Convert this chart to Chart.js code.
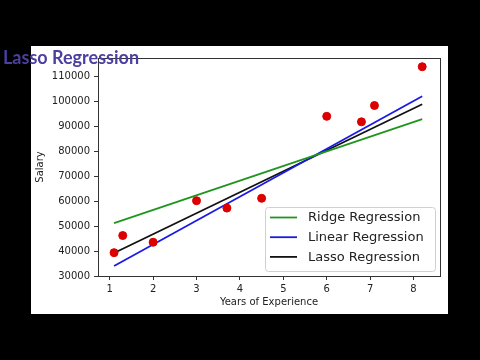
<!DOCTYPE html>
<html><head><meta charset="utf-8">
<script src="https://cdn.jsdelivr.net/npm/chart.js@4.4.0/dist/chart.umd.min.js"></script>
<style>html,body{margin:0;padding:0;background:#000;overflow:hidden}canvas{display:block}</style>
</head><body>
<canvas id="c" width="480" height="360"></canvas>
<script>
const titleText = 'Lasso Regression';
const xLabel = 'Years of Experience';
const yLabel = 'Salary';
const experience = [1.1, 1.3, 2.0, 3.0, 3.7, 4.5, 6.0, 6.8, 7.1, 8.2];
const salary = [39343, 46205, 43525, 60150, 57189, 61111, 93940, 91738, 98273, 113812];
const lineX = [1.1, 8.2];
const ridge = [51200, 92800];
const linear = [34000, 102000];
const lasso = [39200, 98800];
const seriesNames = ['Ridge Regression', 'Linear Regression', 'Lasso Regression'];
const xTicks = [1, 2, 3, 4, 5, 6, 7, 8];
const yTicks = [30000, 40000, 50000, 60000, 70000, 80000, 90000, 100000, 110000];

const pts = (xs, ys) => xs.map((x, i) => ({x: x, y: ys[i]}));
const lineColors = ['#1f951f', '#1a1ae6', '#111111'];

const bgPlugin = {
  id: 'bg',
  beforeDraw(chart) {
    const ctx = chart.ctx;
    ctx.save();
    ctx.fillStyle = '#000';
    ctx.fillRect(0, 0, chart.width, chart.height);
    ctx.fillStyle = '#fff';
    ctx.fillRect(31, 46, 417, 268);
    ctx.restore();
  },
  afterDraw(chart) {
    const ctx = chart.ctx;
    const a = chart.chartArea;
    ctx.save();
    ctx.strokeStyle = '#333';
    ctx.lineWidth = 1;
    ctx.strokeRect(Math.round(a.left) + 0.5, Math.round(a.top) + 0.5, Math.round(a.right - a.left), Math.round(a.bottom - a.top));
    const lx = 265, ly = 207, lw = 170, lh = 64;
    ctx.fillStyle = 'rgba(255,255,255,0.9)';
    ctx.strokeStyle = '#d0d0d0';
    ctx.beginPath();
    if (ctx.roundRect) ctx.roundRect(lx + 0.5, ly + 0.5, lw, lh, 3); else ctx.rect(lx + 0.5, ly + 0.5, lw, lh);
    ctx.fill();
    ctx.stroke();
    ctx.font = '13px "DejaVu Sans"';
    ctx.textBaseline = 'middle';
    for (let i = 0; i < 3; i++) {
      const ds = chart.data.datasets[i + 1];
      const y = 217.5 + i * 19.7;
      ctx.strokeStyle = ds.borderColor;
      ctx.lineWidth = 1.8;
      ctx.beginPath();
      ctx.moveTo(270, y);
      ctx.lineTo(297, y);
      ctx.stroke();
      ctx.fillStyle = '#222';
      ctx.fillText(ds.label, 308, y + 0.5);
    }
    ctx.fillStyle = '#4b3fa0';
    ctx.font = 'bold 18px Lato';
    ctx.textBaseline = 'alphabetic';
    ctx.fillText(titleText, 3, 64, 137);
    ctx.restore();
  }
};

new Chart(document.getElementById('c'), {
  type: 'scatter',
  data: {
    datasets: [
      {label: 'Data', data: pts(experience, salary), backgroundColor: '#dd0000', borderColor: '#dd0000', pointRadius: 4, pointHoverRadius: 4, showLine: false},
      {label: seriesNames[0], data: pts(lineX, ridge), borderColor: lineColors[0], backgroundColor: lineColors[0], showLine: true, pointRadius: 0, borderWidth: 1.8},
      {label: seriesNames[1], data: pts(lineX, linear), borderColor: lineColors[1], backgroundColor: lineColors[1], showLine: true, pointRadius: 0, borderWidth: 1.8},
      {label: seriesNames[2], data: pts(lineX, lasso), borderColor: lineColors[2], backgroundColor: lineColors[2], showLine: true, pointRadius: 0, borderWidth: 1.8}
    ]
  },
  options: {
    responsive: false,
    animation: false,
    devicePixelRatio: 1,
    layout: {padding: {top: 58, right: 40, left: 0, bottom: 0}},
    plugins: {legend: {display: false}, tooltip: {enabled: false}},
    scales: {
      x: {
        type: 'linear', min: 0.73, max: 8.61,
        afterBuildTicks: s => { s.ticks = xTicks.map(v => ({value: v})); },
        afterFit: s => { s.height = 84; },
        grid: {drawOnChartArea: false, tickLength: 4, color: '#333'},
        border: {color: '#333', width: 1},
        ticks: {color: '#222', font: {family: 'DejaVu Sans', size: 10}, padding: 3, maxRotation: 0, autoSkip: false},
        title: {display: true, text: xLabel, color: '#222', font: {family: 'DejaVu Sans', size: 10}, padding: {top: 0, bottom: 52}}
      },
      y: {
        type: 'linear', min: 30000, max: 117300,
        afterBuildTicks: s => { s.ticks = yTicks.map(v => ({value: v})); },
        afterFit: s => { s.width = 98; },
        grid: {drawOnChartArea: false, tickLength: 4, color: '#333'},
        border: {color: '#333', width: 1},
        ticks: {color: '#222', font: {family: 'DejaVu Sans', size: 10}, padding: 4, autoSkip: false, callback: v => String(v)},
        title: {display: true, text: yLabel, color: '#222', font: {family: 'DejaVu Sans', size: 10}, padding: {top: 34, bottom: 0}}
      }
    }
  },
  plugins: [bgPlugin]
});
</script>
</body></html>
